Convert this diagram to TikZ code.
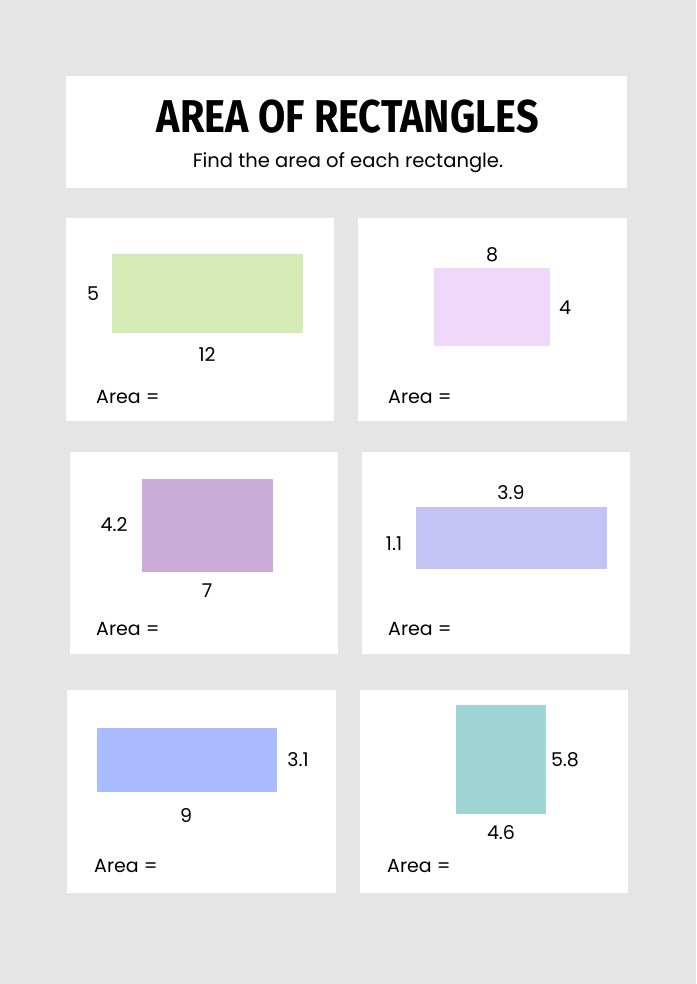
\documentclass[tikz,border=0pt]{standalone}
\usepackage{fontspec}
\setmainfont{Poppins}
\newfontfamily\titlefont[FakeStretch=0.86]{Fira Sans}
\definecolor{pagebg}{HTML}{E5E5E5}
\definecolor{cgreen}{HTML}{D5EAB5}
\definecolor{cpink}{HTML}{F0D8FA}
\definecolor{cpurple}{HTML}{CBACD9}
\definecolor{clav}{HTML}{C3C3F6}
\definecolor{cblue}{HTML}{AABBFF}
\definecolor{cteal}{HTML}{A0D5D6}
\tikzset{
  card/.style={fill=white},
  lbl/.style={font=\fontsize{19}{22}\selectfont, inner sep=0pt, text=black},
  arealbl/.style={font=\fontsize{19}{22}\selectfont, inner sep=0pt, anchor=west, text=black},
}
\begin{document}
\begin{tikzpicture}[x=1pt,y=-1pt]
\fill[pagebg] (0,0) rectangle (696,984);
\useasboundingbox (0,0) rectangle (696,984);
% header
\fill[card] (66,76) rectangle (627,188);
\node[inner sep=0pt, font=\titlefont\bfseries\fontsize{46}{50}\selectfont] (title) at (348,117) {AREA OF RECTANGLES};
\node[inner sep=0pt, font=\fontsize{19.5}{23}\selectfont] (sub) at (348,163) {Find the area of each rectangle.};
% cards
\fill[card] (66,218) rectangle (334,421);
\fill[card] (358,218) rectangle (627,421);
\fill[card] (70,452) rectangle (338,654);
\fill[card] (362,452) rectangle (630,654);
\fill[card] (67,690) rectangle (336,893);
\fill[card] (360,690) rectangle (628,893);
% shapes
\fill[cgreen] (112,254) rectangle (303,333);
\fill[cpink] (434,268) rectangle (550,346);
\fill[cpurple] (142,479) rectangle (273,572);
\fill[clav] (416,507) rectangle (607,569);
\fill[cblue] (97,728) rectangle (277,792);
\fill[cteal] (456,705) rectangle (546,814);
% labels card 1
\node[lbl] (a1) at (93,294) {5};
\node[lbl] (b1) at (207,355) {12};
\node[arealbl] (r1) at (96,397) {Area =};
% card 2
\node[lbl] (a2) at (492,255) {8};
\node[lbl] (b2) at (565,308) {4};
\node[arealbl] (r2) at (388,397) {Area =};
% card 3
\node[lbl] (a3) at (114,525) {4.2};
\node[lbl] (b3) at (207,591) {7};
\node[arealbl] (r3) at (96,629) {Area =};
% card 4
\node[lbl] (a4) at (511,493) {3.9};
\node[lbl] (b4) at (394,544) {1.1};
\node[arealbl] (r4) at (388,629) {Area =};
% card 5
\node[lbl] (a5) at (298,760) {3.1};
\node[lbl] (b5) at (186,815) {9};
\node[arealbl] (r5) at (94,866) {Area =};
% card 6
\node[lbl] (a6) at (565,760) {5.8};
\node[lbl] (b6) at (501,833) {4.6};
\node[arealbl] (r6) at (387,866) {Area =};
\end{tikzpicture}
\end{document}
